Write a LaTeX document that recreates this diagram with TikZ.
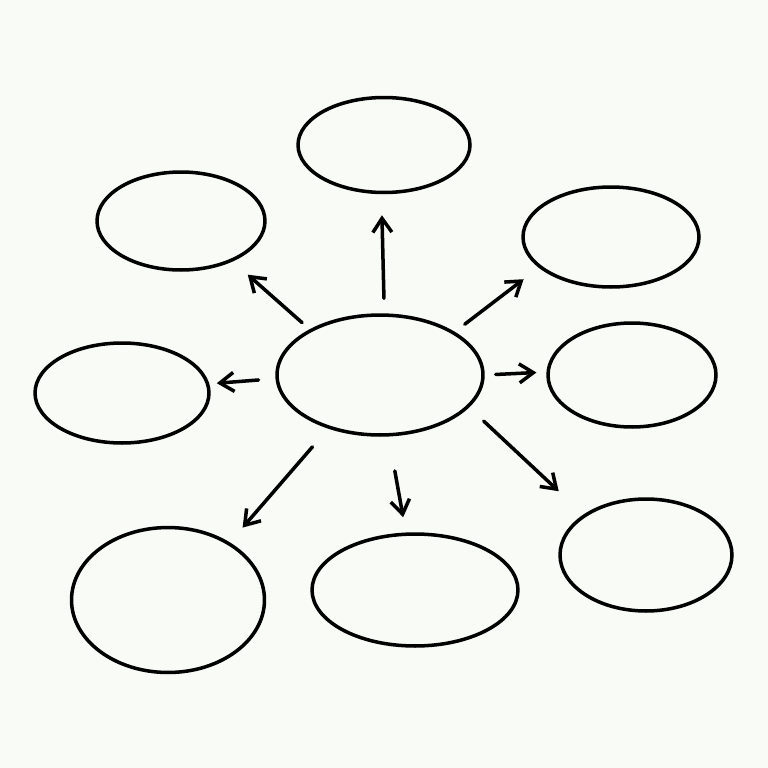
\documentclass[tikz,border=0pt]{standalone}
\usepackage{tikz}
\usetikzlibrary{shapes.geometric,arrows.meta}
\definecolor{paper}{RGB}{249,251,246}

\tikzset{
  bubble/.style={draw=black, ellipse, inner sep=0pt, line width=2pt},
  arr/.style={-{Straight Barb[length=2.8mm,width=3.8mm]}, line width=2pt, line cap=round},
}

\begin{document}
\begin{tikzpicture}[x=0.02cm,y=-0.02cm]
\fill[paper] (0,0) rectangle (768,768);
\useasboundingbox (0,0) rectangle (768,768);

% middle
\node[bubble, minimum width=4.12cm, minimum height=2.4cm] (mid) at (380,375) {};

% outer ring
\node[bubble, minimum width=3.44cm, minimum height=1.9cm] (top) at (384,145) {};
\node[bubble, minimum width=3.36cm, minimum height=1.96cm] (topleft) at (181,221) {};
\node[bubble, minimum width=3.52cm, minimum height=2.0cm] (topright) at (611,237) {};
\node[bubble, minimum width=3.48cm, minimum height=2.0cm] (left) at (122,393) {};
\node[bubble, minimum width=3.36cm, minimum height=2.08cm] (right) at (632,375) {};
\node[bubble, minimum width=3.86cm, minimum height=2.9cm] (botleft) at (168,600) {};
\node[bubble, minimum width=4.12cm, minimum height=2.24cm] (botmid) at (415,590) {};
\node[bubble, minimum width=3.44cm, minimum height=2.24cm] (botright) at (646,555) {};

% arrows
\draw[arr, shorten <=0.3cm, shorten >=0.42cm] (mid.86) -- (top.267);
\draw[arr, shorten <=0.2cm, shorten >=0.4cm] (mid.147) -- (topleft.322);
\draw[arr, shorten <=0.25cm, shorten >=0.38cm] (mid.30) -- (topright.203);
\draw[arr, shorten <=0.34cm, shorten >=0.15cm] (mid.182) -- (left.6);
\draw[arr, shorten <=0.22cm, shorten >=0.2cm] (mid.0) -- (right.178);
\draw[arr, shorten <=0.48cm, shorten >=0.39cm] (mid.226) -- (botleft.43);
\draw[arr, shorten <=0.7cm, shorten >=0.31cm] (mid.278) -- (botmid.99);
\draw[arr, shorten <=0.4cm, shorten >=0.68cm] (mid.340) -- (botright.147);
\end{tikzpicture}
\end{document}
